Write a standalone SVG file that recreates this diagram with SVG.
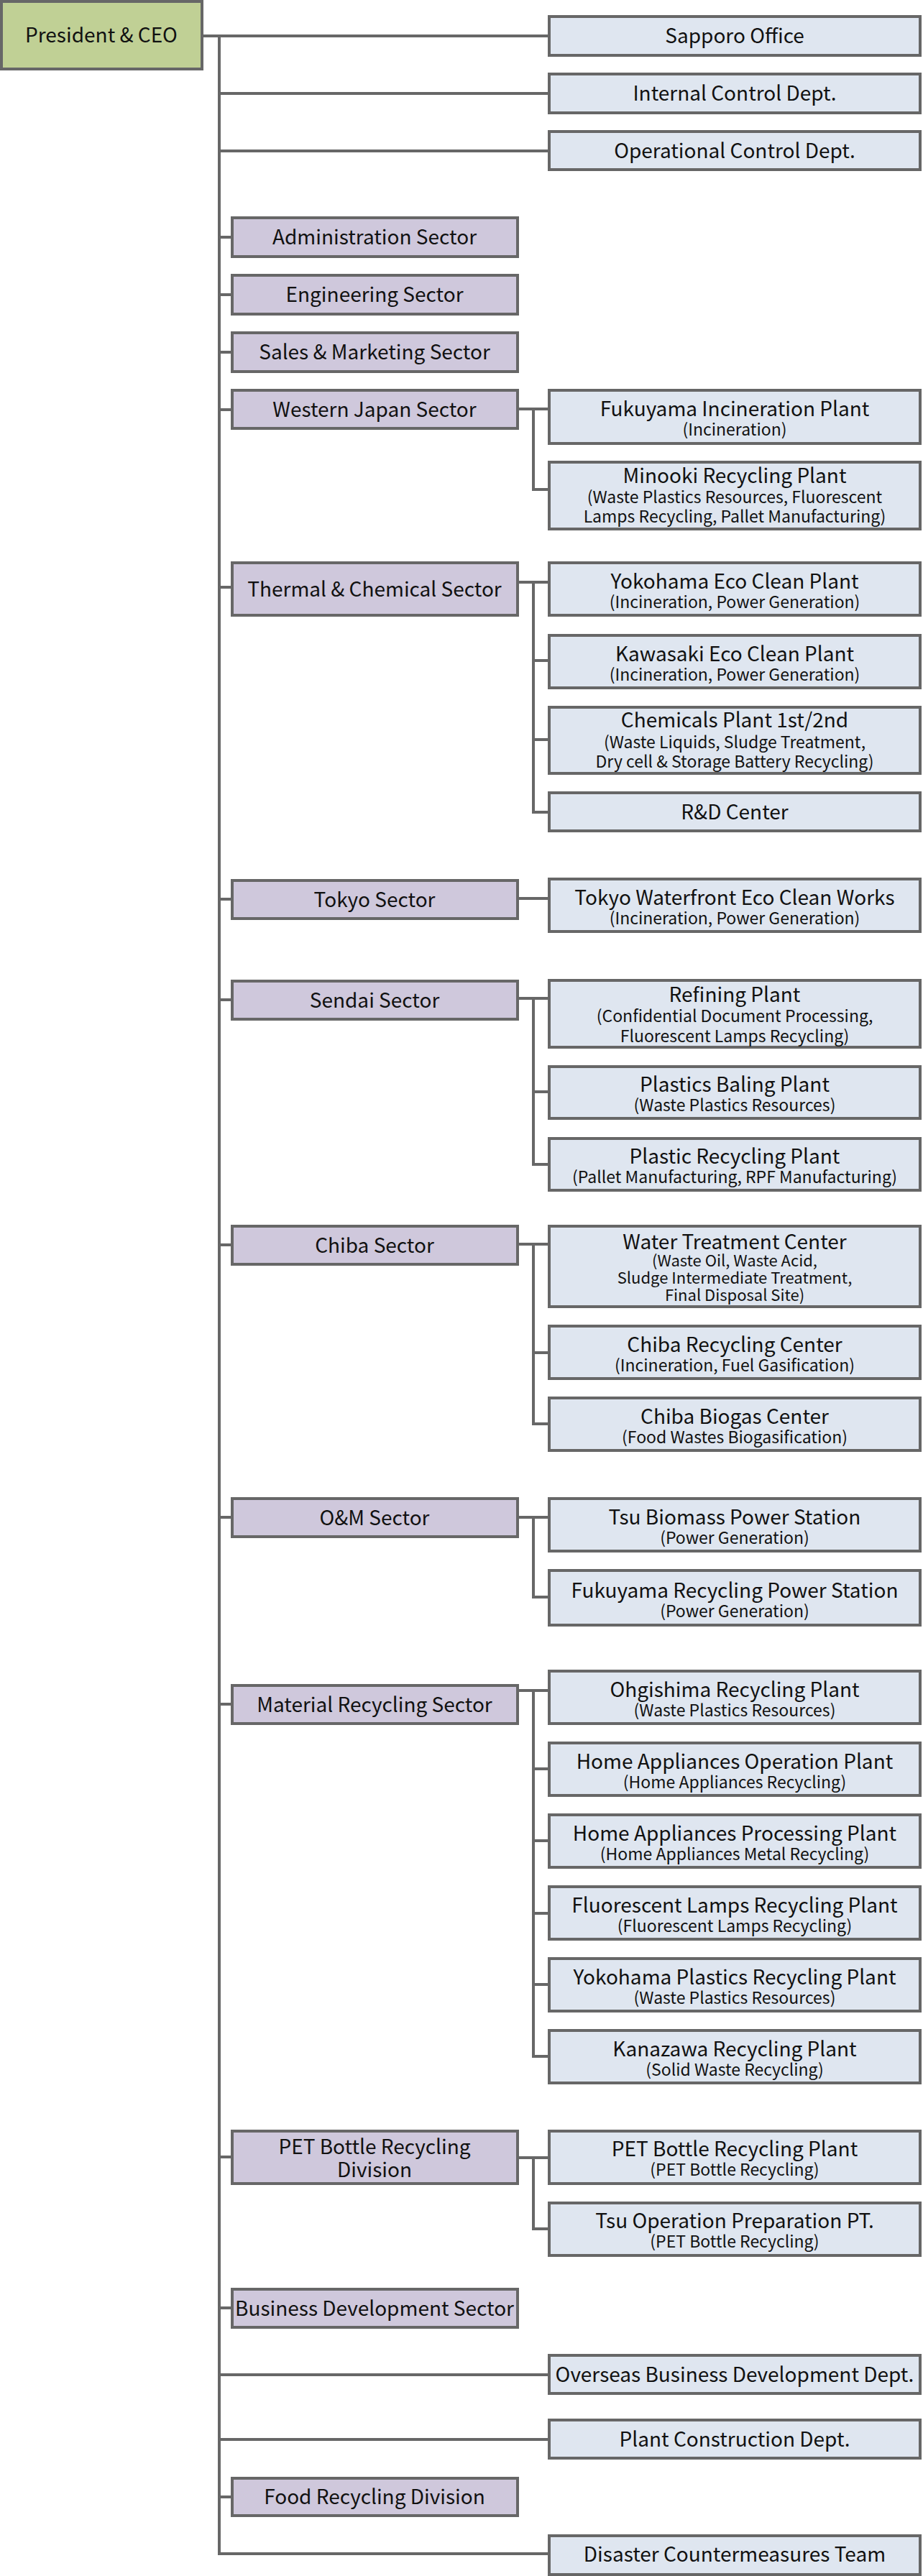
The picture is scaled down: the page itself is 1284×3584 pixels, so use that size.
<svg xmlns="http://www.w3.org/2000/svg" width="1284" height="3584" viewBox="0 0 1284 3584">
<style>
rect{stroke:#676767;stroke-width:4}
.ceo{fill:#c0d095}.sec{fill:#cfc8dc}.sub{fill:#dfe6f0}
text{font-family:"Noto Sans CJK JP","Source Sans Pro","Liberation Sans",sans-serif;fill:#111;text-anchor:middle}
.m{font-size:28px}.s{font-size:23px}.s2{font-size:22px}
#connectors path{fill:none;stroke:#676767;stroke-width:4}
</style>
<rect width="1284" height="3584" fill="#fff" style="stroke:none"/>
<g id="connectors">
<path d="M283 50H762M305 50V3553H762M305 130H762M305 210H762M305 3304H762M305 3394H762"/>
<path d="M305 330H321M305 410H321M305 490H321M305 570H321M305 817H321M305 1251H321M305 1391H321M305 1732H321M305 2111H321M305 2371H321M305 3001H321M305 3211H321M305 3474H321"/>
<path d="M722 569H762M742 569V681H762"/>
<path d="M722 810H762M742 810V1130H762M742 919H762M742 1029H762"/>
<path d="M722 1250H762"/>
<path d="M722 1389H762M742 1389V1620H762M742 1519H762"/>
<path d="M722 1731H762M742 1731V1981H762M742 1882H762"/>
<path d="M722 2111H762M742 2111V2222H762"/>
<path d="M722 2352H762M742 2352V2861H762M742 2461H762M742 2561H762M742 2662H762M742 2761H762"/>
<path d="M722 3002H762M742 3002V3101H762"/>
</g>
<g id="ceo"><rect class="ceo" x="2" y="2" width="279" height="94"/><text class="m" x="141" y="59">President &amp; CEO</text></g>
<g id="sapporo"><rect class="sub" x="764" y="23" width="516" height="54"/><text class="m" x="1022" y="60">Sapporo Office</text></g>
<g id="internal"><rect class="sub" x="764" y="103" width="516" height="54"/><text class="m" x="1022" y="140">Internal Control Dept.</text></g>
<g id="operational"><rect class="sub" x="764" y="183" width="516" height="53"/><text class="m" x="1022" y="220">Operational Control Dept.</text></g>
<g id="admin"><rect class="sec" x="323" y="303" width="397" height="54"/><text class="m" x="521" y="340">Administration Sector</text></g>
<g id="eng"><rect class="sec" x="323" y="383" width="397" height="54"/><text class="m" x="521" y="420">Engineering Sector</text></g>
<g id="sales"><rect class="sec" x="323" y="463" width="397" height="54"/><text class="m" x="521" y="500">Sales &amp; Marketing Sector</text></g>
<g id="western"><rect class="sec" x="323" y="543" width="397" height="53"/><text class="m" x="521" y="580">Western Japan Sector</text></g>
<g id="fukuyama-inc"><rect class="sub" x="764" y="543" width="516" height="74"/><text class="m" x="1022" y="579">Fukuyama Incineration Plant</text><text class="s" x="1022" y="606">(Incineration)</text></g>
<g id="minooki"><rect class="sub" x="764" y="643" width="516" height="93"/><text class="m" x="1022" y="672">Minooki Recycling Plant</text><text class="s" x="1022" y="700">(Waste Plastics Resources, Fluorescent</text><text class="s" x="1022" y="727">Lamps Recycling, Pallet Manufacturing)</text></g>
<g id="thermal"><rect class="sec" x="323" y="783" width="397" height="73"/><text class="m" x="521" y="830">Thermal &amp; Chemical Sector</text></g>
<g id="yokohama-eco"><rect class="sub" x="764" y="783" width="516" height="73"/><text class="m" x="1022" y="819">Yokohama Eco Clean Plant</text><text class="s" x="1022" y="846">(Incineration, Power Generation)</text></g>
<g id="kawasaki"><rect class="sub" x="764" y="884" width="516" height="73"/><text class="m" x="1022" y="920">Kawasaki Eco Clean Plant</text><text class="s" x="1022" y="947">(Incineration, Power Generation)</text></g>
<g id="chemicals"><rect class="sub" x="764" y="984" width="516" height="92"/><text class="m" x="1022" y="1012">Chemicals Plant  1st/2nd</text><text class="s" x="1022" y="1041">(Waste Liquids, Sludge Treatment,</text><text class="s" x="1022" y="1068">Dry cell &amp; Storage Battery Recycling)</text></g>
<g id="rd"><rect class="sub" x="764" y="1103" width="516" height="53"/><text class="m" x="1022" y="1140">R&amp;D Center</text></g>
<g id="tokyo"><rect class="sec" x="323" y="1225" width="397" height="53"/><text class="m" x="521" y="1262">Tokyo Sector</text></g>
<g id="tokyo-wf"><rect class="sub" x="764" y="1223" width="516" height="73"/><text class="m" x="1022" y="1259">Tokyo Waterfront Eco Clean Works</text><text class="s" x="1022" y="1286">(Incineration, Power Generation)</text></g>
<g id="sendai"><rect class="sec" x="323" y="1365" width="397" height="53"/><text class="m" x="521" y="1402">Sendai Sector</text></g>
<g id="refining"><rect class="sub" x="764" y="1364" width="516" height="93"/><text class="m" x="1022" y="1394">Refining Plant</text><text class="s" x="1022" y="1422">(Confidential Document Processing,</text><text class="s" x="1022" y="1450">Fluorescent Lamps Recycling)</text></g>
<g id="baling"><rect class="sub" x="764" y="1484" width="516" height="72"/><text class="m" x="1022" y="1519">Plastics Baling Plant</text><text class="s" x="1022" y="1546">(Waste Plastics Resources)</text></g>
<g id="plastic-rec"><rect class="sub" x="764" y="1584" width="516" height="72"/><text class="m" x="1022" y="1619">Plastic Recycling Plant</text><text class="s" x="1022" y="1646">(Pallet Manufacturing, RPF Manufacturing)</text></g>
<g id="chiba"><rect class="sec" x="323" y="1706" width="397" height="53"/><text class="m" x="521" y="1743">Chiba Sector</text></g>
<g id="water"><rect class="sub" x="764" y="1706" width="516" height="112"/><text class="m" x="1022" y="1738">Water Treatment Center</text><text class="s2" x="1022" y="1762">(Waste Oil, Waste Acid,</text><text class="s2" x="1022" y="1786">Sludge Intermediate Treatment,</text><text class="s2" x="1022" y="1810">Final Disposal Site)</text></g>
<g id="chiba-rec"><rect class="sub" x="764" y="1845" width="516" height="73"/><text class="m" x="1022" y="1881">Chiba Recycling Center</text><text class="s" x="1022" y="1908">(Incineration, Fuel Gasification)</text></g>
<g id="biogas"><rect class="sub" x="764" y="1945" width="516" height="73"/><text class="m" x="1022" y="1981">Chiba Biogas Center</text><text class="s" x="1022" y="2008">(Food Wastes Biogasification)</text></g>
<g id="om"><rect class="sec" x="323" y="2085" width="397" height="53"/><text class="m" x="521" y="2122">O&amp;M Sector</text></g>
<g id="tsu-biomass"><rect class="sub" x="764" y="2085" width="516" height="73"/><text class="m" x="1022" y="2121">Tsu Biomass Power Station</text><text class="s" x="1022" y="2148">(Power Generation)</text></g>
<g id="fuku-rec"><rect class="sub" x="764" y="2185" width="516" height="76"/><text class="m" x="1022" y="2223">Fukuyama Recycling Power Station</text><text class="s" x="1022" y="2250">(Power Generation)</text></g>
<g id="material"><rect class="sec" x="323" y="2345" width="397" height="53"/><text class="m" x="521" y="2382">Material Recycling Sector</text></g>
<g id="ohgishima"><rect class="sub" x="764" y="2325" width="516" height="73"/><text class="m" x="1022" y="2361">Ohgishima Recycling Plant</text><text class="s" x="1022" y="2388">(Waste Plastics Resources)</text></g>
<g id="home-op"><rect class="sub" x="764" y="2425" width="516" height="73"/><text class="m" x="1022" y="2461">Home Appliances Operation Plant</text><text class="s" x="1022" y="2488">(Home Appliances Recycling)</text></g>
<g id="home-proc"><rect class="sub" x="764" y="2525" width="516" height="73"/><text class="m" x="1022" y="2561">Home Appliances Processing Plant</text><text class="s" x="1022" y="2588">(Home Appliances Metal Recycling)</text></g>
<g id="fluor"><rect class="sub" x="764" y="2625" width="516" height="73"/><text class="m" x="1022" y="2661">Fluorescent Lamps Recycling Plant</text><text class="s" x="1022" y="2688">(Fluorescent Lamps Recycling)</text></g>
<g id="yoko-pl"><rect class="sub" x="764" y="2725" width="516" height="73"/><text class="m" x="1022" y="2761">Yokohama Plastics Recycling Plant</text><text class="s" x="1022" y="2788">(Waste Plastics Resources)</text></g>
<g id="kanazawa"><rect class="sub" x="764" y="2825" width="516" height="73"/><text class="m" x="1022" y="2861">Kanazawa Recycling Plant</text><text class="s" x="1022" y="2888">(Solid Waste Recycling)</text></g>
<g id="pet"><rect class="sec" x="323" y="2965" width="397" height="73"/><text class="m" x="521" y="2997">PET Bottle Recycling</text><text class="m" x="521" y="3029">Division</text></g>
<g id="pet-plant"><rect class="sub" x="764" y="2965" width="516" height="73"/><text class="m" x="1022" y="3000">PET Bottle Recycling Plant</text><text class="s" x="1022" y="3027">(PET Bottle Recycling)</text></g>
<g id="tsu-op"><rect class="sub" x="764" y="3065" width="516" height="73"/><text class="m" x="1022" y="3100">Tsu Operation Preparation PT.</text><text class="s" x="1022" y="3127">(PET Bottle Recycling)</text></g>
<g id="busdev"><rect class="sec" x="323" y="3185" width="397" height="53"/><text class="m" x="521" y="3222">Business Development Sector</text></g>
<g id="overseas"><rect class="sub" x="764" y="3277" width="516" height="53"/><text class="m" x="1022" y="3314">Overseas Business Development Dept.</text></g>
<g id="plant-cons"><rect class="sub" x="764" y="3367" width="516" height="53"/><text class="m" x="1022" y="3404">Plant Construction Dept.</text></g>
<g id="food"><rect class="sec" x="323" y="3448" width="397" height="52"/><text class="m" x="521" y="3484">Food Recycling Division</text></g>
<g id="disaster"><rect class="sub" x="764" y="3528" width="516" height="54"/><text class="m" x="1022" y="3564">Disaster Countermeasures Team</text></g>
</svg>
